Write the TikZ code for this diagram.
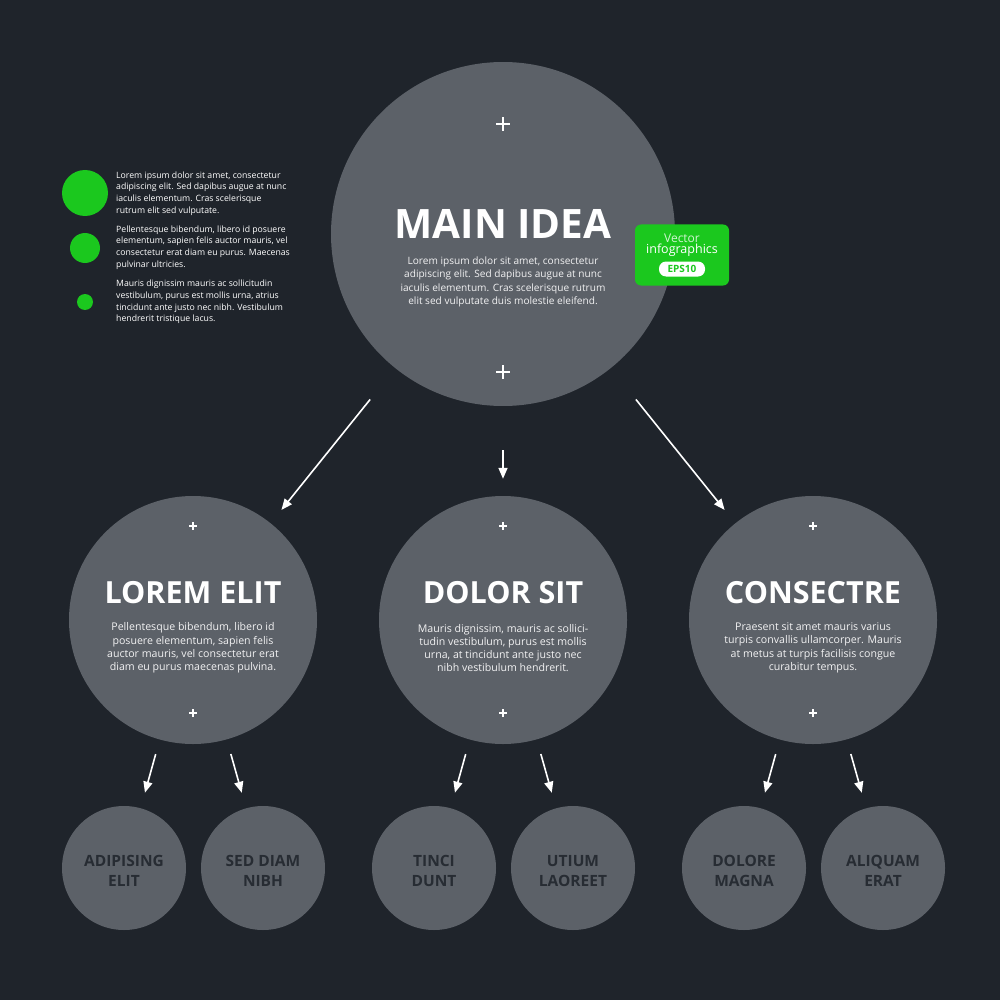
\documentclass[tikz,border=0pt]{standalone}
\usepackage{fontspec}
\setmainfont{Open Sans}
\usetikzlibrary{arrows.meta}
\definecolor{bgdark}{HTML}{1F242B}
\definecolor{disc}{HTML}{5C6168}
\definecolor{leafgreen}{HTML}{1BC81E}
\definecolor{leaftext}{HTML}{272C33}
\tikzset{
bubble/.style={circle, fill=disc, inner sep=0pt},
bigbubble/.style={bubble, minimum size=344pt},
midbubble/.style={bubble, minimum size=248pt},
leafbubble/.style={bubble, minimum size=124pt},
leaflabel/.style={text=leaftext, align=center, inner sep=0pt,
  font=\bfseries\fontsize{15.5}{20}\selectfont},
bigtitle/.style={text=white, inner sep=0pt, font=\bfseries\fontsize{40.5}{44}\selectfont},
midtitle/.style={text=white, inner sep=0pt, font=\bfseries\fontsize{30.5}{34}\selectfont},
body/.style={text=white!92!disc, align=center, inner sep=0pt,
  font=\fontsize{10.6}{13.3}\selectfont},
link/.style={draw=white, line width=1.6pt, -{Triangle[length=11pt,width=9pt]}},
dot/.style={circle, fill=leafgreen, inner sep=0pt},
note/.style={anchor=west, text=white, align=left, inner sep=0pt,
  font=\fontsize{8.7}{11.6}\selectfont},
badge/.style={fill=leafgreen, rounded corners=6pt, minimum width=94pt, minimum height=61pt},
pill/.style={fill=white, rounded corners=7pt, minimum width=46pt, minimum height=15pt,
  inner sep=0pt, text=leafgreen, font=\bfseries\fontsize{10}{12}\selectfont},
plus/.pic={
  \draw[white, line width=1.5pt] (-7,0) -- (7,0) (0,-7) -- (0,7);
  },
smallplus/.pic={
  \draw[white, line width=1.3pt] (-4,0) -- (4,0) (0,-4) -- (0,4);
  }
}
\begin{document}
\begin{tikzpicture}[x=1pt, y=-1pt]
  \fill[bgdark] (0,0) rectangle (1000,1000);
  \useasboundingbox (0,0) rectangle (1000,1000);
  % legend
  \node[dot, minimum size=46pt] (dotA) at (85,193) {};
  \node[dot, minimum size=30pt] (dotB) at (85,248) {};
  \node[dot, minimum size=16pt] (dotC) at (85,302) {};
  \node[note] (noteA) at (116,193.5) {Lorem ipsum dolor sit amet, consectetur\\adipiscing elit. Sed dapibus augue at nunc\\iaculis elementum. Cras scelerisque\\rutrum elit sed vulputate.};
  \node[note] (noteB) at (116,247.5) {Pellentesque bibendum, libero id posuere\\elementum, sapien felis auctor mauris, vel\\consectetur erat diam eu purus. Maecenas\\pulvinar ultricies.};
  \node[note] (noteC) at (116,302) {Mauris dignissim mauris ac sollicitudin\\vestibulum, purus est mollis urna, atrius\\tincidunt ante justo nec nibh. Vestibulum\\hendrerit tristique lacus.};
  % main idea
  \node[bigbubble] (main) at (503,234) {};
  \pic at (503,124) {plus};
  \pic at (503,372) {plus};
  \node[bigtitle] (maintitle) at (503,224) {MAIN IDEA};
  \node[body, font=\fontsize{10.1}{13.5}\selectfont] (maintext) at (503,282) {Lorem ipsum dolor sit amet, consectetur\\adipiscing elit. Sed dapibus augue at nunc\\iaculis elementum. Cras scelerisque rutrum\\elit sed vulputate duis molestie eleifend.};
  % badge
  \node[badge] (badge) at (682,255) {};
  \node[text=white!80!leafgreen, inner sep=0pt, font=\fontsize{12}{14}\selectfont] (vector) at (682,238) {Vector};
  \node[text=white, inner sep=0pt, font=\fontsize{12.5}{14}\selectfont] (infog) at (682,250) {infographics};
  \node[pill] (eps) at (682,269) {EPS10};
  % second level
  \node[midbubble] (lorem) at (193,620) {};
  \node[midbubble] (dolor) at (503,620) {};
  \node[midbubble] (consec) at (813,620) {};
  \pic at (193,526) {smallplus};
  \pic at (193,713) {smallplus};
  \pic at (503,526) {smallplus};
  \pic at (503,713) {smallplus};
  \pic at (813,526) {smallplus};
  \pic at (813,713) {smallplus};
  \node[midtitle] (loremtitle) at (193,593) {LOREM ELIT};
  \node[midtitle] (dolortitle) at (503,593) {DOLOR SIT};
  \node[midtitle] (consectitle) at (813,593) {CONSECTRE};
  \node[body] (loremtext) at (193,648) {Pellentesque bibendum, libero id\\posuere elementum, sapien felis\\auctor mauris, vel consectetur erat\\diam eu purus maecenas pulvina.};
  \node[body] (dolortext) at (503,648) {Mauris dignissim, mauris ac sollici-\\tudin vestibulum, purus est mollis\\urna, at tincidunt ante justo nec\\nibh vestibulum hendrerit.};
  \node[body] (consectext) at (813,648) {Praesent sit amet mauris varius\\turpis convallis ullamcorper. Mauris\\at metus at turpis facilisis congue\\curabitur tempus.};
  % third level
  \node[leafbubble] (adip) at (124,868) {};
  \node[leafbubble] (sed) at (263,868) {};
  \node[leafbubble] (tinci) at (434,868) {};
  \node[leafbubble] (utium) at (573,868) {};
  \node[leafbubble] (dolore) at (744,868) {};
  \node[leafbubble] (aliq) at (883,868) {};
  \node[leaflabel] (adiptext) at (124,871) {ADIPISING\\ELIT};
  \node[leaflabel] (sedtext) at (263,871) {SED DIAM\\NIBH};
  \node[leaflabel] (tincitext) at (434,871) {TINCI\\DUNT};
  \node[leaflabel] (utiumtext) at (573,871) {UTIUM\\LAOREET};
  \node[leaflabel] (doloretext) at (744,871) {DOLORE\\MAGNA};
  \node[leaflabel] (aliqtext) at (883,871) {ALIQUAM\\ERAT};
  % arrows
  \draw[link, shorten <=40pt, shorten >=17pt] (main) -- (lorem);
  \draw[link, shorten <=44pt, shorten >=17pt] (main) -- (dolor);
  \draw[link, shorten <=40pt, shorten >=17pt] (main) -- (consec);
  \draw[link, shorten <=15pt, shorten >=16pt] (lorem) -- (adip);
  \draw[link, shorten <=15pt, shorten >=16pt] (lorem) -- (sed);
  \draw[link, shorten <=15pt, shorten >=16pt] (dolor) -- (tinci);
  \draw[link, shorten <=15pt, shorten >=16pt] (dolor) -- (utium);
  \draw[link, shorten <=15pt, shorten >=16pt] (consec) -- (dolore);
  \draw[link, shorten <=15pt, shorten >=16pt] (consec) -- (aliq);
\end{tikzpicture}
\end{document}
